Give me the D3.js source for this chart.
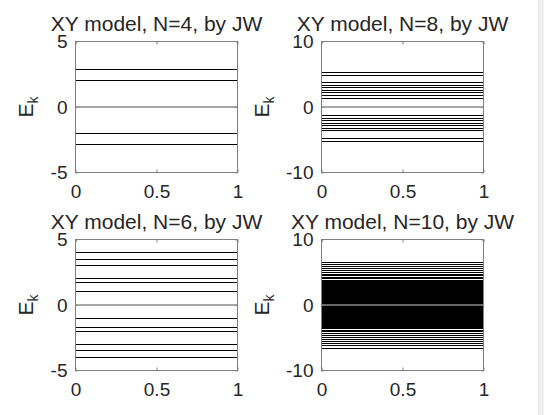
<!DOCTYPE html>
<html>
<head>
<meta charset="utf-8">
<script src="https://cdn.jsdelivr.net/npm/d3@7"></script>
<style>
  body { margin: 0; background: #fff; }
  svg { display: block; }
</style>
</head>
<body>
<svg id="chart" width="544" height="415"></svg>
<script>
// energy levels, one array per panel
var levelsN4 = [2.83, 2.0, 0, -2.0, -2.83];
var levelsN8 = [5.23, 4.8, 3.72, 3.34, 2.95, 2.55, 2.18, 1.73, 1.36, 0,
                -1.3, -1.68, -2.1, -2.5, -2.88, -3.26, -3.66, -4.75, -5.2];
var levelsN6 = [4.0, 3.5, 3.0, 2.0, 1.73, 1.0, 0, -1.0, -1.73, -2.0, -3.0, -3.5, -4.0];
var levelsN10 = [6.47, 6.16, 5.85, 5.5, 5.24, 4.94, 4.65, 4.47, 4.24, 4.0, 3.8, 3.62,
                 3.4, 3.24, 3.08, 2.94, 2.8, 2.62, 2.47, 2.35, 2.2, 2.06, 1.9, 1.78,
                 1.62, 1.5, 1.35, 1.2, 1.06, 0.94, 0.78, 0.62, 0.5, 0.35, 0.2, 0.08, 0,
                 -0.1, -0.24, -0.38, -0.5, -0.65, -0.78, -0.92, -1.08, -1.2, -1.35,
                 -1.5, -1.62, -1.78, -1.9, -2.06, -2.2, -2.35, -2.5, -2.62, -2.78,
                 -2.94, -3.08, -3.24, -3.4, -3.62, -3.85, -4.1, -4.35, -4.6, -4.9,
                 -5.2, -5.5, -5.85, -6.16, -6.6];

var titles = ["XY model, N=4, by JW", "XY model, N=8, by JW",
              "XY model, N=6, by JW", "XY model, N=10, by JW"];
var yTicks5 = [-5, 0, 5];
var yTicks10 = [-10, 0, 10];
var xTicks = [0, 0.5, 1];

var panels = [
  { title: titles[0], levels: levelsN4, ticks: yTicks5, left: 75.5, top: 41.5, labelX: -43 },
  { title: titles[1], levels: levelsN8, ticks: yTicks10, left: 321.5, top: 41.5, labelX: -53 },
  { title: titles[2], levels: levelsN6, ticks: yTicks5, left: 75.5, top: 239.5, labelX: -43 },
  { title: titles[3], levels: levelsN10, ticks: yTicks10, left: 321.5, top: 239.5, labelX: -53 }
];

var w = 162, h = 131;
var font = "'Liberation Sans', Arial, Helvetica, sans-serif";
var boxColor = "#808080", textColor = "#262626";
var plain = function (d) { return String(d); };   // keep the hyphen minus

var svg = d3.select("#chart");

// light strip at the right edge of the window
svg.append("rect").attr("x", 538).attr("y", 0).attr("width", 6).attr("height", 415)
  .attr("fill", "#f1f1f1");
svg.append("line").attr("x1", 538.5).attr("x2", 538.5).attr("y1", 0).attr("y2", 415)
  .attr("stroke", "#e4e4e4");

panels.forEach(function (p) {
  var ext = d3.max(p.ticks);
  var x = d3.scaleLinear().domain([0, 1]).range([0, w]);
  var y = d3.scaleLinear().domain([-ext, ext]).range([h, 0]);

  var g = svg.append("g").attr("transform", "translate(" + p.left + "," + p.top + ")");

  // level lines, the zero level on top in gray
  g.selectAll("line.level")
    .data(p.levels.filter(function (d) { return d !== 0; }))
    .join("line")
    .attr("class", "level")
    .attr("x1", x(0)).attr("x2", x(1))
    .attr("y1", function (d) { return y(d); })
    .attr("y2", function (d) { return y(d); })
    .attr("stroke", "#000")
    .attr("stroke-width", 1)
    .attr("shape-rendering", "crispEdges");

  g.selectAll("line.zero")
    .data(p.levels.filter(function (d) { return d === 0; }))
    .join("line")
    .attr("class", "zero")
    .attr("x1", x(0)).attr("x2", x(1))
    .attr("y1", function (d) { return y(d); })
    .attr("y2", function (d) { return y(d); })
    .attr("stroke", "#8a8a8a")
    .attr("stroke-width", 1.6);

  // axes
  g.append("g")
    .call(d3.axisLeft(y).tickValues(p.ticks).tickFormat(plain)
      .tickSizeInner(-2).tickSizeOuter(0).tickPadding(8));
  g.append("g").attr("transform", "translate(0," + h + ")")
    .call(d3.axisBottom(x).tickValues(xTicks).tickFormat(plain)
      .tickSizeInner(-3).tickSizeOuter(0).tickPadding(12));
  g.append("g")
    .call(d3.axisTop(x).tickValues(xTicks).tickFormat("").tickSizeInner(-3).tickSizeOuter(0));
  g.append("g").attr("transform", "translate(" + w + ",0)")
    .call(d3.axisRight(y).tickValues(p.ticks).tickFormat("").tickSizeInner(-2).tickSizeOuter(0));

  g.selectAll(".domain").remove();
  g.selectAll(".tick line").attr("stroke", boxColor);
  g.selectAll(".tick text")
    .attr("fill", textColor)
    .style("font-family", font)
    .style("font-size", "19px");

  g.append("rect")
    .attr("width", w).attr("height", h)
    .attr("fill", "none")
    .attr("stroke", boxColor)
    .attr("stroke-width", 1);

  // title
  g.append("text")
    .attr("x", w / 2).attr("y", -11)
    .attr("text-anchor", "middle")
    .attr("fill", textColor)
    .style("font-family", font)
    .style("font-size", "21px")
    .text(p.title);

  // y label E_k
  var lab = g.append("text")
    .attr("transform", "translate(" + p.labelX + "," + (h / 2) + ") rotate(-90)")
    .attr("text-anchor", "middle")
    .attr("fill", textColor)
    .style("font-family", font)
    .style("font-size", "21px");
  lab.append("tspan").text("E");
  lab.append("tspan").attr("dy", 5).style("font-size", "14px").text("k");
});
</script>
</body>
</html>
